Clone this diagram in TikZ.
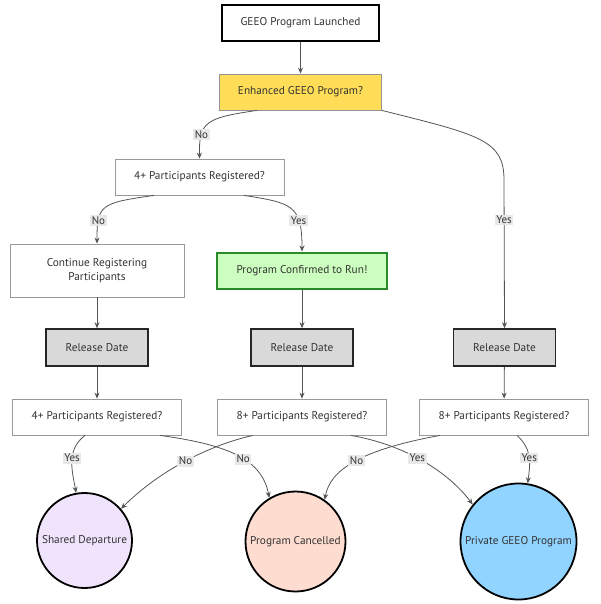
\documentclass[tikz,border=0pt]{standalone}
\usepackage{fontspec}
\setmainfont{PT Sans}
\usetikzlibrary{arrows.meta,shapes.geometric}
\definecolor{edgec}{HTML}{555555}
\definecolor{txt}{HTML}{333333}
\definecolor{lblbg}{HTML}{E8E8E8}
\definecolor{yel}{HTML}{FFDD57}
\definecolor{grn}{HTML}{CCFFBF}
\definecolor{grnb}{HTML}{2A8A2A}
\definecolor{rel}{HTML}{D9D9D9}
\definecolor{lav}{HTML}{F0E4FC}
\definecolor{peach}{HTML}{FFDCD0}
\definecolor{sky}{HTML}{90D4FF}
\tikzset{
  base/.style={rectangle, align=center, text=txt, font=\fontsize{11.3}{14}\selectfont, inner sep=0pt},
  plain/.style={base, draw=gray!80, line width=0.8pt, fill=white},
  startbox/.style={base, draw=black, line width=2.4pt, fill=white},
  decide/.style={base, draw=gray!85, line width=0.8pt, fill=yel},
  okbox/.style={base, draw=grnb, line width=2pt, fill=grn},
  relbox/.style={base, draw=black!85, line width=1.6pt, fill=rel},
  endc/.style={circle, draw=black, line width=1.8pt, text=txt, font=\fontsize{11.3}{14}\selectfont, inner sep=0pt},
  conn/.style={draw=edgec, line width=0.8pt, -{Stealth[length=6pt,width=5pt]}},
  lbl/.style={fill=lblbg, text=txt, font=\fontsize{11}{13}\selectfont, inner sep=1.5pt}
}
\begin{document}
\begin{tikzpicture}[x=1pt,y=-1pt]
\useasboundingbox (0,0) rectangle (600,604);
\fill[white] (0,0) rectangle (600,604);
% nodes
\node[startbox, minimum width=157pt, minimum height=36pt] (launch) at (300.5,23) {GEEO Program Launched};
\node[decide, minimum width=162pt, minimum height=36pt] (enh) at (300.5,92) {Enhanced GEEO Program?};
\node[plain, minimum width=169pt, minimum height=36pt] (top4) at (199.5,177) {4+ Participants Registered?};
\node[plain, minimum width=174pt, minimum height=53pt] (cont) at (97,270.5) {Continue Registering\\Participants};
\node[okbox, minimum width=170pt, minimum height=36pt] (conf) at (302,270.5) {Program Confirmed to Run!};
\node[relbox, minimum width=102pt, minimum height=37pt] (rel1) at (97,347.5) {Release Date};
\node[relbox, minimum width=102pt, minimum height=37pt] (rel2) at (302,347.5) {Release Date};
\node[relbox, minimum width=102pt, minimum height=37pt] (rel3) at (504.5,347.5) {Release Date};
\node[plain, minimum width=169pt, minimum height=36pt] (b1) at (97,417) {4+ Participants Registered?};
\node[plain, minimum width=169pt, minimum height=36pt] (b2) at (302,417) {8+ Participants Registered?};
\node[plain, minimum width=169pt, minimum height=36pt] (b3) at (504,417) {8+ Participants Registered?};
\node[endc, fill=lav, minimum size=95pt] (shared) at (84.5,540.5) {\makebox[0pt]{Shared Departure}};
\node[endc, fill=peach, minimum size=100pt] (canc) at (295.5,541.5) {\makebox[0pt]{Program Cancelled}};
\node[endc, fill=sky, minimum size=116pt] (priv) at (518.5,541.5) {\makebox[0pt]{Private GEEO Program}};
% edges
\draw[conn] (launch) -- (enh);
\draw[conn] ([xshift=-43.5pt]enh.south) .. controls (205,118) and (199,122) .. node[lbl, pos=0.72]{No} (top4.north);
\draw[conn] (enh.south east) .. controls (480,135) and (504,140) .. (504,180) -- node[lbl, pos=0.27]{Yes} (rel3.north);
\draw[conn] ([xshift=-45.5pt]top4.south) .. controls (100,203) and (97,205) .. node[lbl, pos=0.74]{No} (cont.north);
\draw[conn] ([xshift=44.5pt]top4.south) .. controls (292,203) and (302,205) .. node[lbl, pos=0.7]{Yes} (conf.north);
\draw[conn] (cont) -- (rel1);
\draw[conn] (conf) -- (rel2);
\draw[conn] (rel1) -- (b1);
\draw[conn] (rel2) -- (b2);
\draw[conn] (rel3) -- (b3);
% bottom edges
\draw[conn] ([xshift=-12pt]b1.south) .. controls (66,450) and (72,470) .. node[lbl, pos=0.45]{Yes} (shared.100);
\draw[conn] ([xshift=63pt]b1.south) .. controls (230,445) and (262,460) .. node[lbl, pos=0.55]{No} (canc.121);
\draw[conn] ([xshift=-49pt]b2.south) .. controls (210,445) and (160,470) .. node[lbl, pos=0.5]{No} (shared.41);
\draw[conn] ([xshift=49pt]b2.south) .. controls (400,444) and (445,468) .. node[lbl, pos=0.48]{Yes} (priv.141);
\draw[conn] ([xshift=-64pt]b3.south) .. controls (360,450) and (330,470) .. node[lbl, pos=0.48]{No} (canc.55);
\draw[conn] ([xshift=13pt]b3.south) .. controls (533,450) and (530,465) .. node[lbl, pos=0.5]{Yes} (priv.81);
\end{tikzpicture}
\end{document}
